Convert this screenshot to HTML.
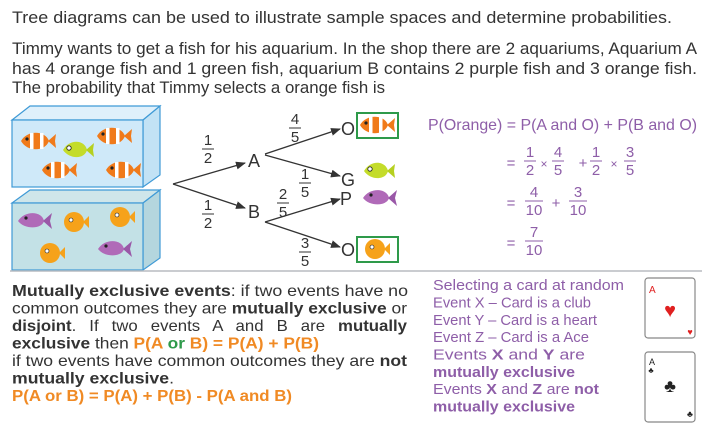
<!DOCTYPE html>
<html><head><meta charset="utf-8"><style>
html,body{margin:0;padding:0;background:#fff;}
svg{display:block;font-family:"Liberation Sans",sans-serif;}
</style></head><body>
<svg width="712" height="431" viewBox="0 0 712 431" xmlns="http://www.w3.org/2000/svg">
<defs>
<marker id="ar" markerWidth="10" markerHeight="8" refX="9" refY="4" orient="auto" markerUnits="userSpaceOnUse"><path d="M0,0 L10,4 L0,8 z" fill="#333"/></marker>
<g id="of"><path d="M-15,0 C-9,-11 9,-11 13,0 C9,11 -9,11 -15,0z" fill="#f07a1a"/><path d="M12,0 L20,-7 L19,0 L20,7z" fill="#f07a1a"/><rect x="-6" y="-8" width="3.5" height="16" fill="#fff"/><rect x="4" y="-8" width="3.5" height="16" fill="#fff"/><circle cx="-9" cy="-2" r="1.6" fill="#222"/></g>
<g id="gf"><path d="M-13,0 C-6,-12 9,-10 11,0 C9,9 -6,10 -13,0z" fill="#c4dc2a"/><path d="M10,0 L18,-7 L17,0 L18,7z" fill="#b6d020"/><circle cx="-7" cy="-2" r="2.2" fill="#fff" stroke="#222" stroke-width="0.8"/></g>
<g id="pf"><path d="M-15,0 C-8,-11 9,-10 11,0 C9,8 -8,9 -15,0z" fill="#b06ab8"/><path d="M10,0 L19,-8 L17,0 L19,8z" fill="#9a58a8"/><circle cx="-7" cy="-3" r="1.6" fill="#222"/></g>
<g id="yf"><circle r="10" fill="#f6a21a"/><path d="M9,0 L15,-6 L15,6z" fill="#f6a21a"/><circle cx="-3" cy="-2" r="2" fill="#fff" stroke="#222" stroke-width="0.6"/></g>
</defs>

<g fill="#333" font-size="17">
<text x="12" y="23" textLength="660" lengthAdjust="spacingAndGlyphs">Tree diagrams can be used to illustrate sample spaces and determine probabilities.</text>
<text x="12" y="54" textLength="685" lengthAdjust="spacingAndGlyphs">Timmy wants to get a fish for his aquarium. In the shop there are 2 aquariums, Aquarium A</text>
<text x="12" y="74" textLength="685" lengthAdjust="spacingAndGlyphs">has 4 orange fish and 1 green fish, aquarium B contains 2 purple fish and 3 orange fish.</text>
<text x="12" y="93" textLength="373" lengthAdjust="spacingAndGlyphs">The probability that Timmy selects a orange fish is</text>
</g>

<!-- aquariums -->
<g stroke="#3f9ad6" stroke-width="1.2">
<polygon points="12,120 30,106 160,106 143,120" fill="#dff0fb"/>
<polygon points="143,120 160,106 160,175 143,187" fill="#c2e2f5"/>
<rect x="12" y="120" width="131" height="67" fill="#cfe9f9"/>
<polygon points="12,203 30,190 160,190 143,203" fill="#cfe6ea"/>
<polygon points="143,203 160,190 160,258 143,270" fill="#b4d6de"/>
<rect x="12" y="203" width="131" height="67" fill="#c3e1e6"/>
</g>
<use href="#of" x="36" y="141"/><use href="#of" x="112" y="136"/><use href="#of" x="57" y="170"/><use href="#of" x="121" y="170"/><use href="#gf" x="76" y="150"/>
<use href="#pf" x="33" y="221"/><use href="#yf" x="74" y="222"/><use href="#yf" x="120" y="217"/><use href="#yf" x="50" y="253"/><use href="#pf" x="113" y="249"/>

<!-- tree -->
<g stroke="#333" stroke-width="1.3" fill="none" marker-end="url(#ar)">
<line x1="173" y1="184" x2="245" y2="163"/>
<line x1="173" y1="184" x2="245" y2="208"/>
<line x1="265" y1="154" x2="340" y2="129"/>
<line x1="265" y1="155" x2="340" y2="176"/>
<line x1="265" y1="222" x2="340" y2="199"/>
<line x1="265" y1="222" x2="340" y2="247"/>
</g>
<g fill="#333" font-size="18">
<text x="248" y="167">A</text><text x="248" y="218">B</text>
<text x="341" y="135">O</text><text x="341" y="186">G</text><text x="340" y="205">P</text><text x="341" y="256">O</text>
</g>
<g fill="#333" font-size="15" text-anchor="middle">
<text x="208" y="145">1</text><line x1="202" y1="149" x2="214" y2="149" stroke="#333"/><text x="208" y="163">2</text>
<text x="208" y="210">1</text><line x1="202" y1="214" x2="214" y2="214" stroke="#333"/><text x="208" y="228">2</text>
<text x="295" y="124">4</text><line x1="289" y1="128" x2="301" y2="128" stroke="#333"/><text x="295" y="142">5</text>
<text x="305" y="179">1</text><line x1="299" y1="183" x2="311" y2="183" stroke="#333"/><text x="305" y="197">5</text>
<text x="283" y="199">2</text><line x1="277" y1="203" x2="289" y2="203" stroke="#333"/><text x="283" y="217">5</text>
<text x="305" y="248">3</text><line x1="299" y1="252" x2="311" y2="252" stroke="#333"/><text x="305" y="266">5</text>
</g>
<rect x="357" y="113" width="41" height="25" fill="#fff" stroke="#2e9a4a" stroke-width="2"/>
<use href="#of" x="375" y="125"/>
<use href="#gf" x="377" y="171"/>
<use href="#pf" x="378" y="198"/>
<rect x="357" y="237" width="41" height="25" fill="#fff" stroke="#2e9a4a" stroke-width="2"/>
<use href="#yf" x="375" y="249"/>

<!-- formula -->
<g fill="#8e5ea8" font-size="16">
<text x="428" y="130" textLength="269" lengthAdjust="spacingAndGlyphs">P(Orange) = P(A and O) + P(B and O)</text>
</g>
<g fill="#8e5ea8" font-size="15" text-anchor="middle">
<text x="511" y="168">=</text>
<text x="530" y="157">1</text><line x1="524" y1="161" x2="536" y2="161" stroke="#8e5ea8"/><text x="530" y="175">2</text>
<text x="544" y="168" font-size="12">×</text>
<text x="558" y="157">4</text><line x1="552" y1="161" x2="564" y2="161" stroke="#8e5ea8"/><text x="558" y="175">5</text>
<text x="583" y="168">+</text>
<text x="596" y="157">1</text><line x1="590" y1="161" x2="602" y2="161" stroke="#8e5ea8"/><text x="596" y="175">2</text>
<text x="614" y="168" font-size="12">×</text>
<text x="630" y="157">3</text><line x1="624" y1="161" x2="636" y2="161" stroke="#8e5ea8"/><text x="630" y="175">5</text>
<text x="511" y="208">=</text>
<text x="534" y="197">4</text><line x1="525" y1="201" x2="543" y2="201" stroke="#8e5ea8"/><text x="534" y="215">10</text>
<text x="556" y="208">+</text>
<text x="578" y="197">3</text><line x1="569" y1="201" x2="587" y2="201" stroke="#8e5ea8"/><text x="578" y="215">10</text>
<text x="511" y="248">=</text>
<text x="534" y="237">7</text><line x1="525" y1="241" x2="543" y2="241" stroke="#8e5ea8"/><text x="534" y="255">10</text>
</g>

<line x1="10" y1="271" x2="702" y2="271" stroke="#b8bcc0" stroke-width="1.5"/>

<!-- bottom left -->
<g fill="#333" font-size="16">
<text x="12" y="296" textLength="396" lengthAdjust="spacingAndGlyphs"><tspan font-weight="bold">Mutually exclusive events</tspan>: if two events have no</text>
<text x="12" y="313.5" textLength="395" lengthAdjust="spacingAndGlyphs">common outcomes they are <tspan font-weight="bold">mutually exclusive</tspan> or</text>
<text x="12" y="331" textLength="395" lengthAdjust="spacingAndGlyphs" word-spacing="8"><tspan font-weight="bold">disjoint</tspan>. If two events A and B are <tspan font-weight="bold">mutually</tspan></text>
<text x="12" y="348.5" textLength="307" lengthAdjust="spacingAndGlyphs"><tspan font-weight="bold">exclusive</tspan> then  <tspan font-weight="bold" fill="#f08a24">P(A <tspan fill="#2e9a4a">or</tspan> B) = P(A) + P(B)</tspan></text>
<text x="12" y="366" textLength="395" lengthAdjust="spacingAndGlyphs">if two events have common outcomes they are <tspan font-weight="bold">not</tspan></text>
<text x="12" y="383.5" textLength="162" lengthAdjust="spacingAndGlyphs"><tspan font-weight="bold">mutually exclusive</tspan>.</text>
<text x="12" y="401" textLength="280" lengthAdjust="spacingAndGlyphs" font-weight="bold" fill="#f08a24">P(A or B) = P(A) + P(B) - P(A and B)</text>
</g>

<!-- bottom right -->
<g fill="#8e5ea8" font-size="15">
<text x="433" y="290" textLength="191" lengthAdjust="spacingAndGlyphs">Selecting a card at random</text>
<text x="433" y="307.5" textLength="158" lengthAdjust="spacingAndGlyphs">Event X – Card is a club</text>
<text x="433" y="325" textLength="164" lengthAdjust="spacingAndGlyphs">Event Y – Card is a heart</text>
<text x="433" y="342" textLength="156" lengthAdjust="spacingAndGlyphs">Event Z – Card is a Ace</text>
<text x="433" y="359.5" textLength="152" lengthAdjust="spacingAndGlyphs">Events <tspan font-weight="bold">X</tspan> and <tspan font-weight="bold">Y</tspan> are</text>
<text x="433" y="377" textLength="142" lengthAdjust="spacingAndGlyphs" font-weight="bold">mutually exclusive</text>
<text x="433" y="394" textLength="166" lengthAdjust="spacingAndGlyphs">Events <tspan font-weight="bold">X</tspan> and <tspan font-weight="bold">Z</tspan> are <tspan font-weight="bold">not</tspan></text>
<text x="433" y="411.5" textLength="142" lengthAdjust="spacingAndGlyphs" font-weight="bold">mutually exclusive</text>
</g>

<!-- cards -->
<rect x="645" y="278" width="50" height="60" rx="3" fill="#fff" stroke="#888" stroke-width="1.2"/>
<text x="649" y="293" font-size="10" fill="#e02020">A</text>
<text x="670" y="317" font-size="20" fill="#e02020" text-anchor="middle">♥</text>
<text x="690" y="335" font-size="9" fill="#e02020" text-anchor="middle">♥</text>
<rect x="645" y="352" width="50" height="70" rx="3" fill="#fff" stroke="#888" stroke-width="1.2"/>
<text x="649" y="365" font-size="9" fill="#222">A</text>
<text x="651" y="373" font-size="8" fill="#222" text-anchor="middle">♣</text>
<text x="670" y="392" font-size="18" fill="#222" text-anchor="middle">♣</text>
<text x="690" y="417" font-size="9" fill="#222" text-anchor="middle">♣</text>
</svg>
</body></html>
